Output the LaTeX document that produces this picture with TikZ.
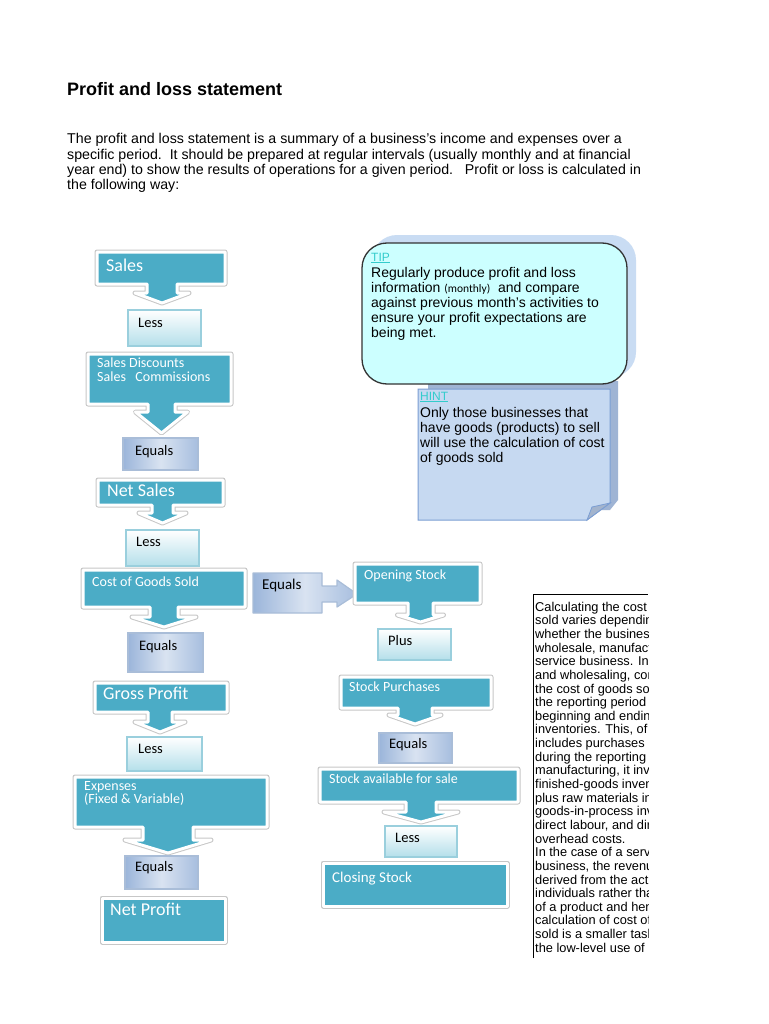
\documentclass[tikz,border=0pt]{standalone}
\usepackage{fontspec}
\setmainfont{Liberation Sans}
\newfontfamily\calfont{Carlito}
\definecolor{teal5}{HTML}{4BACC6}
\definecolor{lessbot}{HTML}{B4DFEA}
\definecolor{lessedge}{HTML}{9ACFDD}
\definecolor{eqL}{HTML}{9BB5DA}
\definecolor{eqM}{HTML}{D9E3F1}
\definecolor{eqR}{HTML}{A7BEDF}
\definecolor{eqedge}{HTML}{A9BDD8}
\definecolor{tipfill}{HTML}{CCFFFF}
\definecolor{tipshadow}{HTML}{C9DCF3}
\definecolor{hintfill}{HTML}{C6D9F1}
\definecolor{hintedge}{HTML}{7B9ED3}
\definecolor{hintshadow}{HTML}{9FB4D4}
\definecolor{foldcol}{HTML}{A3B4CD}
\definecolor{labelcyan}{HTML}{33CCCC}
\newcommand\callout[9]{%
  \path[preaction={draw=black!22,line width=5pt,line join=round},
        draw=white,line width=3pt,line join=round,fill=teal5]
    (#1,#2) -- (#3,#2) -- (#3,#4) -- ({#5+#6},#4) -- ({#5+#6},#8) -- ({#5+#7},#8)
    -- (#5,#9) -- ({#5-#7},#8) -- ({#5-#6},#8) -- ({#5-#6},#4) -- (#1,#4) -- cycle;}
\newcommand\plainbox[4]{%
  \path[preaction={draw=black!22,line width=5pt,line join=round},
        draw=white,line width=3pt,line join=round,fill=teal5]
    (#1,#2) rectangle (#3,#4);}
\begin{document}
\begin{tikzpicture}[x=1pt,y=-1pt,
  bodytxt/.style={anchor=base west,inner sep=0pt,font=\fontsize{14.2}{15.5}\selectfont},
  tealtxt/.style={anchor=base west,inner sep=0pt,text=white,font=\calfont\fontsize{14}{16}\selectfont},
  bigtxt/.style={anchor=base west,inner sep=0pt,text=white,font=\calfont\fontsize{18}{20}\selectfont},
  optxt/.style={anchor=base west,inner sep=0pt,text=black,font=\calfont\fontsize{14.5}{16}\selectfont},
  tiptxt/.style={anchor=base west,inner sep=0pt,font=\fontsize{14}{15}\selectfont},
  sidetxt/.style={anchor=base west,inner sep=0pt,font=\fontsize{12.8}{13.6}\selectfont},
  lessbox/.style={draw=lessedge,line width=1.2pt,top color=white,bottom color=lessbot},
  eqbox/.style={draw=eqedge,line width=1.2pt,left color=eqL,right color=eqR,middle color=eqM}]
\useasboundingbox[fill=white] (0,0) rectangle (768,1024);

% ---- heading and paragraph
\node[anchor=base west,inner sep=0pt,font=\bfseries\fontsize{18}{20}\selectfont] (title) at (67,96) {Profit and loss statement};
\node[bodytxt] (p1) at (67,144) {The profit and loss statement is a summary of a business’s income and expenses over a};
\node[bodytxt] (p2) at (67,159.5) {specific period.\ \ It should be prepared at regular intervals (usually monthly and at financial};
\node[bodytxt] (p3) at (67,175) {year end) to show the results of operations for a given period.\ \ \ Profit or loss is calculated in};
\node[bodytxt] (p4) at (67,190) {the following way:};

% ---- TIP and HINT
\fill[tipshadow,rounded corners=25pt] (372,235) rectangle (636,377);
\fill[hintshadow] (428,381) -- (618,381) -- (618,500) -- (610,510) -- (428,510) -- cycle;
\draw[hintedge,line width=1pt,fill=hintfill] (418,389) -- (610,389) -- (610,503) -- (587,520) -- (418,520) -- cycle;
\draw[hintedge,line width=0.8pt,fill=foldcol] (610,503) -- (592,507) -- (587,520) -- cycle;
\draw[black!80,line width=1.3pt,fill=tipfill,rounded corners=25pt] (362,243) rectangle (627,384);
\node[anchor=base west,inner sep=0pt,text=labelcyan,font=\fontsize{12}{13}\selectfont] (tiplbl) at (371,261) {\underline{TIP}};
\node[tiptxt] (t1) at (371,277) {Regularly produce profit and loss};
\node[tiptxt] (t2) at (371,292) {information {\calfont\fontsize{11.5}{13}\selectfont(monthly)}\ \ and compare};
\node[tiptxt] (t3) at (371,307) {against previous month’s activities to};
\node[tiptxt] (t4) at (371,322) {ensure your profit expectations are};
\node[tiptxt] (t5) at (371,337) {being met.};
\node[anchor=base west,inner sep=0pt,text=labelcyan,font=\fontsize{12}{13}\selectfont] (hintlbl) at (420,400) {\underline{HINT}};
\node[tiptxt] (h1) at (420,417) {Only those businesses that};
\node[tiptxt] (h2) at (420,432) {have goods (products) to sell};
\node[tiptxt] (h3) at (420,447) {will use the calculation of cost};
\node[tiptxt] (h4) at (420,462) {of goods sold};

% ---- left column
\callout{97}{252}{225}{284}{162}{15}{27}{293}{303}
\node[bigtxt] (sales) at (106,271) {Sales};
\path[lessbox] (128,310) rectangle (201,346);
\node[optxt] (less1) at (138,327) {Less};
\callout{88}{354}{231}{404}{161.5}{13.5}{26}{412}{433}
\node[tealtxt] (disc) at (97,367) {Sales Discounts};
\node[tealtxt] (comm) at (97,381) {Sales\ \ \ Commissions};
\path[eqbox] (123,438) rectangle (198,470);
\node[optxt] (eq1) at (135,455) {Equals};
\callout{98}{480}{223}{505}{162.5}{10.5}{23.5}{513}{523}
\node[bigtxt] (netsales) at (107,496) {Net Sales};
\path[lessbox] (126,530) rectangle (199,566);
\node[optxt] (less2) at (136,546) {Less};
\callout{83}{570}{245}{607}{164}{14}{32}{617}{627}
\node[tealtxt] (cogs) at (92,586.5) {Cost of Goods Sold};
\path[eqbox] (128,633) rectangle (203,672);
\node[optxt] (eq3) at (139,650) {Equals};
\callout{95}{683}{227}{712}{160}{12}{25}{722}{732}
\node[bigtxt] (gross) at (103,699) {Gross Profit};
\path[lessbox] (127,737) rectangle (202,771);
\node[optxt] (less3) at (138,753) {Less};
\callout{75}{777}{267}{827}{168}{25}{43}{840}{853}
\node[tealtxt] (exp1) at (84,790.5) {Expenses};
\node[tealtxt] (exp2) at (84,803.5) {(Fixed \& Variable)};
\path[eqbox] (125,856) rectangle (198,889);
\node[optxt] (eq4) at (135,871) {Equals};
\plainbox{102}{898}{225}{942}
\node[bigtxt] (netprofit) at (110,915) {Net Profit};

% ---- right arrow Equals
\path[eqbox,line join=round] (253,573) -- (322,573) -- (322,586) -- (337,586) -- (337,580) -- (357,594)
  -- (337,607) -- (337,602) -- (322,602) -- (322,613) -- (253,613) -- cycle;
\node[optxt,font=\calfont\fontsize{15}{17}\selectfont] (eq2) at (262,589) {Equals};

% ---- right column
\callout{355}{564}{480}{603}{420.5}{12.5}{23}{615}{622}
\node[tealtxt] (open) at (364,579.5) {Opening Stock};
\path[lessbox] (378,629) rectangle (451,660);
\node[optxt] (plus) at (388,645) {Plus};
\callout{341}{677}{491}{708}{415}{17}{26}{715}{724}
\node[tealtxt] (purch) at (349,691.5) {Stock Purchases};
\path[eqbox] (379,733) rectangle (452,763);
\node[optxt] (eq5) at (389,748) {Equals};
\callout{320}{769}{518}{802}{421}{15}{37}{812}{822}
\node[tealtxt] (avail) at (329,783.5) {Stock available for sale};
\path[lessbox] (385,826) rectangle (457,857);
\node[optxt] (less5) at (395,842) {Less};
\plainbox{323}{863}{507}{906}
\node[tealtxt,font=\calfont\fontsize{15}{17}\selectfont] (closing) at (332,882) {Closing Stock};

% ---- clipped side text box
\draw[black,line width=1pt] (533,958) -- (533,594) -- (648,594);
\begin{scope}
\clip (534,595) rectangle (648,958);
\foreach \i/\t in {0/{Calculating the cost of},1/{sold varies depending},2/{whether the business},
  3/{wholesale, manufacturing},4/{service business. In},5/{and wholesaling, computing},
  6/{the cost of goods sold},7/{the reporting period},8/{beginning and ending},
  9/{inventories. This, of},10/{includes purchases made},11/{during the reporting},
  12/{manufacturing, it involves},13/{finished-goods inventories},14/{plus raw materials inventories},
  15/{goods-in-process inventories},16/{direct labour, and direct},17/{overhead costs.},
  18/{In the case of a service},19/{business, the revenue},20/{derived from the activities},
  21/{individuals rather than},22/{of a product and hence},23/{calculation of cost of},
  24/{sold is a smaller task},25/{the low-level use of materials}}{
  \node[sidetxt] (side\i) at (535,{611.2+13.64*\i}) {\t};
}
\end{scope}
\end{tikzpicture}
\end{document}
